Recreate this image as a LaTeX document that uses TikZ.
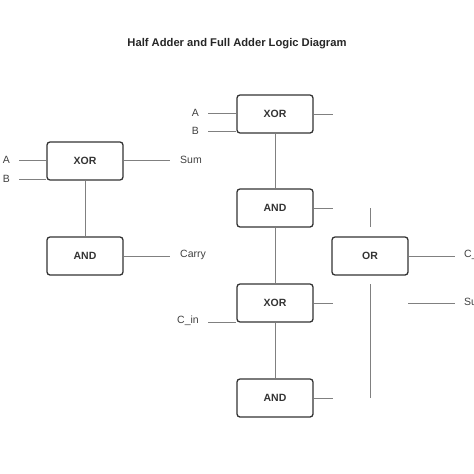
\documentclass[tikz,border=0pt]{standalone}
\usepackage{fontspec}
\setmainfont{Liberation Sans}
\begin{document}
\begin{tikzpicture}[x=1pt,y=-1pt,font=\fontsize{10.5}{12}\selectfont]
    \tikzstyle{gate}=[draw=black!80,line width=1.3pt,rounded corners=3pt,minimum width=76pt,minimum height=38pt,font=\fontsize{10.5}{12}\selectfont\bfseries,text=black!80];
    \tikzstyle{wire}=[draw=black!50,line width=1pt];
    \tikzstyle{lbl}=[text=black!75,inner sep=0pt];
    \useasboundingbox (0,0) rectangle (474,474);
    \clip (0,0) rectangle (474,474);
    \node[font=\fontsize{11.2}{13}\selectfont\bfseries,text=black!85] at (237,44) (title) {Half Adder and Full Adder Logic Diagram};
    % half adder
    \node[gate] at (85,161)  (hxor) {XOR};
    \node[gate] at (85,256)  (hand) {AND};
    \coordinate (ha) at (19,160);
    \coordinate (hb) at (19,179);
    \coordinate (hs) at (170,160);
    \coordinate (hc) at (170,256);
    \node[lbl,anchor=east] at (10,160) {A};
    \node[lbl,anchor=east] at (10,179) {B};
    \node[lbl,anchor=west] at (180,160) {Sum};
    \node[lbl,anchor=west] at (180,255) {Carry};
    \draw[wire] (ha) -- (ha -| hxor.west);
    \draw[wire] (hb) -- (hb -| hxor.west);
    \draw[wire] (hxor.east |- hs) -- (hs);
    \draw[wire] (hand.east |- hc) -- (hc);
    \draw[wire] (hxor) -- (hand);
    % full adder
    \node[gate] at (275,114) (fxor1) {XOR};
    \node[gate] at (275,208) (fand1) {AND};
    \node[gate] at (275,303) (fxor2) {XOR};
    \node[gate] at (275,398) (fand2) {AND};
    \node[gate] at (370,256) (for)   {OR};
    \coordinate (fa) at (208,113);
    \coordinate (fb) at (208,131);
    \coordinate (fcin) at (208,322);
    \node[lbl,anchor=east] at (199,113) {A};
    \node[lbl,anchor=east] at (199,131) {B};
    \node[lbl,anchor=east] at (199,321) {C\_in};
    \draw[wire] (fa) -- (fa -| fxor1.west);
    \draw[wire] (fb) -- (fb -| fxor1.west);
    \draw[wire] (fcin) -- (fcin -| fxor2.west);
    \draw[wire] (fxor1) -- (fand1);
    \draw[wire] (fand1) -- (fxor2);
    \draw[wire] (fxor2) -- (fand2);
    \foreach \g in {fxor1,fand1,fxor2,fand2}
        \draw[wire] (\g.east) -- ++(19,0);
    \coordinate (ortop) at (370,208);
    \coordinate (orbot) at (370,398);
    \draw[wire] (ortop) -- ++(0,19);
    \draw[wire] (orbot) -- ++(0,-114);
    \coordinate (fcout) at (455,256);
    \coordinate (fs) at (455,303);
    \draw[wire] (for.east) -- (fcout);
    \draw[wire] (408,303) -- (fs);
    \node[lbl,anchor=west] at (464,255) {C\_out};
    \node[lbl,anchor=west] at (464,302) {Sum};
\end{tikzpicture}
\end{document}
